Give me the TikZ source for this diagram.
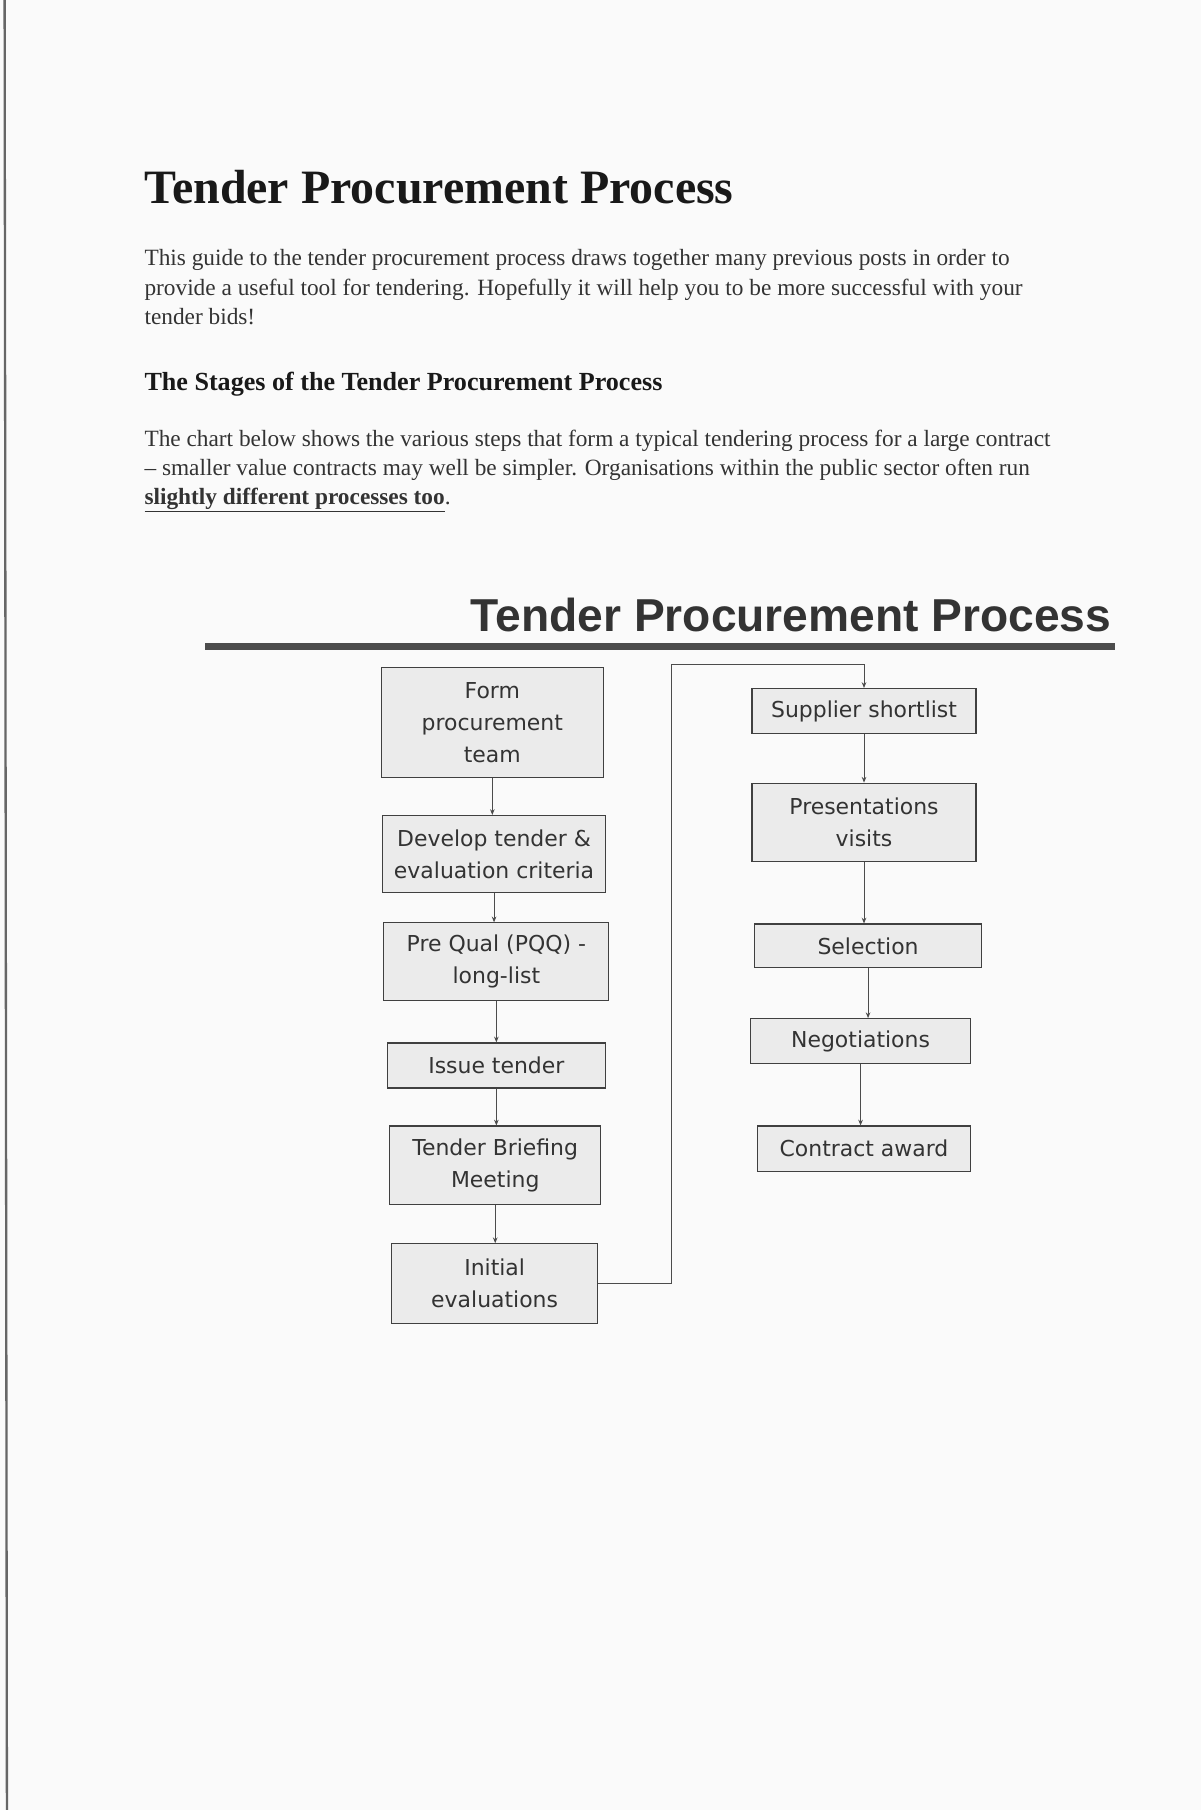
\documentclass[tikz,border=0pt]{standalone}
\usepackage{fontspec}
\setmainfont{Liberation Serif}
\newfontfamily\boxfont{DejaVu Sans}
\newfontfamily\titlefont{Liberation Sans}
\usetikzlibrary{arrows.meta}
\begin{document}
\begin{tikzpicture}[x=1pt,y=-1pt,
  stagebox/.style={draw=black!75,fill=black!8,line width=1pt,anchor=north west,inner sep=0pt,align=center,font=\boxfont\fontsize{19}{28}\selectfont,text=black!80},
  conn/.style={draw=black!70,line width=0.9pt,-{Stealth[length=5pt,width=4pt]}},
  para/.style={anchor=north west,align=left,inner sep=0pt,text=black!80,font=\fontsize{20.2}{25.5}\selectfont}]
\useasboundingbox[fill=black!2] (0,0) rectangle (1040,1568);
\draw[black!60,line width=2pt] (4,0) -- (6,1568);
\node[anchor=base west,inner sep=0pt,text=black!90,font=\bfseries\fontsize{41.5}{48}\selectfont] (t) at (125,176) {Tender Procurement Process};
\node[para] (p1) at (125,216) {This guide to the tender procurement process draws together many previous posts in order to\\provide a useful tool for tendering. Hopefully it will help you to be more successful with your\\tender bids!};
\node[anchor=base west,inner sep=0pt,text=black!90,font=\bfseries\fontsize{22.6}{25}\selectfont] (h) at (125,338) {The Stages of the Tender Procurement Process};
\node[para] (p2) at (125,372) {The chart below shows the various steps that form a typical tendering process for a large contract\\-- smaller value contracts may well be simpler. Organisations within the public sector often run\\\textbf{\underline{slightly different processes too}}.};
\node[anchor=base east,inner sep=0pt,text=black!80,font=\titlefont\bfseries\fontsize{40}{48}\selectfont] (dt) at (963,547) {Tender Procurement Process};
\fill[black!70] (178,557) rectangle (966,563);
\node[stagebox,minimum width=192,minimum height=95] (a1) at (330,578) {Form\\procurement\\team};
\node[stagebox,minimum width=193,minimum height=67] (a2) at (331,706) {Develop tender \&\\evaluation criteria};
\node[stagebox,minimum width=195,minimum height=67] (a3) at (332,799) {Pre Qual (PQQ) -\\long-list};
\node[stagebox,minimum width=189,minimum height=39] (a4) at (335,903) {Issue tender};
\node[stagebox,minimum width=183,minimum height=68] (a5) at (337,975) {Tender Briefing\\Meeting};
\node[stagebox,minimum width=178,minimum height=69] (a6) at (339,1077) {Initial\\evaluations};
\node[stagebox,minimum width=194,minimum height=39] (b1) at (651,596) {Supplier shortlist};
\node[stagebox,minimum width=194,minimum height=68] (b2) at (651,678) {Presentations\\visits};
\node[stagebox,minimum width=197,minimum height=38] (b3) at (653,800) {Selection};
\node[stagebox,minimum width=190,minimum height=39] (b4) at (650,882) {Negotiations};
\node[stagebox,minimum width=184,minimum height=39] (b5) at (656,975) {Contract award};
\draw[conn] (a1.south) -- (a1.south |- a2.north);
\draw[conn] (a2.south) -- (a2.south |- a3.north);
\draw[conn] (a3.south) -- (a3.south |- a4.north);
\draw[conn] (a4.south) -- (a4.south |- a5.north);
\draw[conn] (a5.south) -- (a5.south |- a6.north);
\coordinate (c1) at (582,576);
\draw[conn] (a6.east) -| (c1) -| (b1.north);
\draw[conn] (b1.south) -- (b1.south |- b2.north);
\draw[conn] (b2.south) -- (b2.south |- b3.north);
\draw[conn] (b3.south) -- (b3.south |- b4.north);
\draw[conn] (b4.south) -- (b4.south |- b5.north);
\end{tikzpicture}
\end{document}
